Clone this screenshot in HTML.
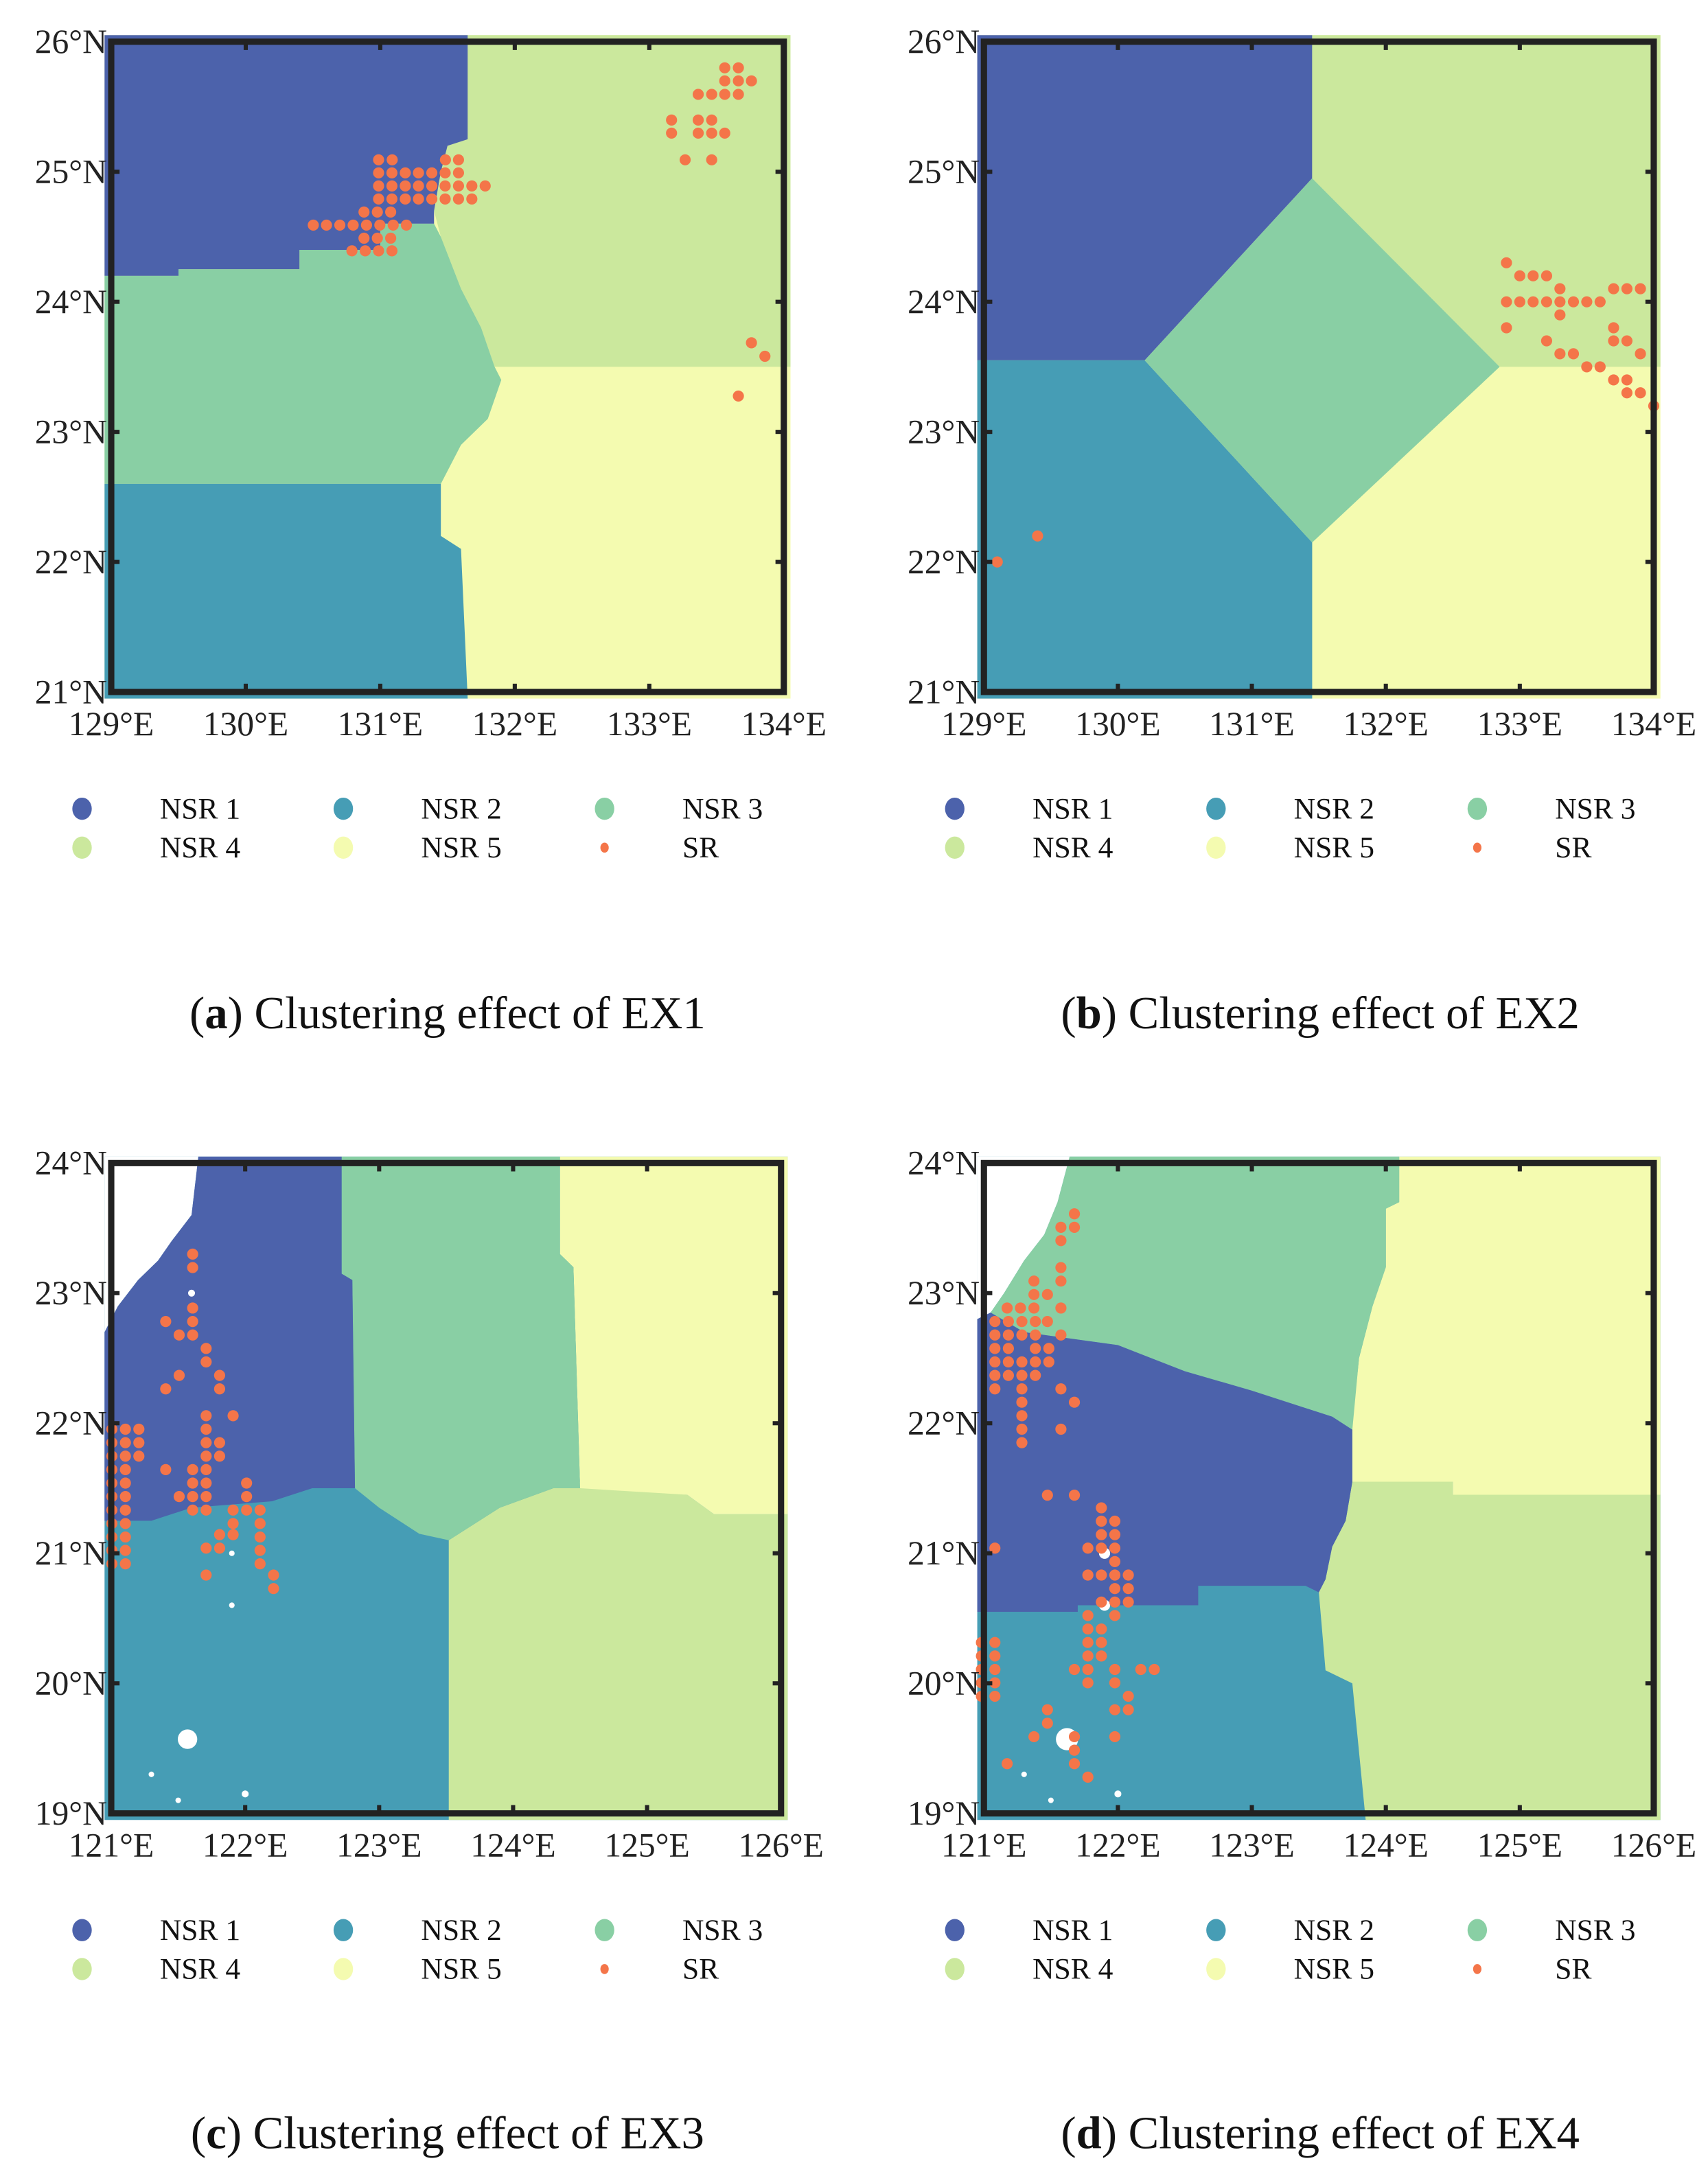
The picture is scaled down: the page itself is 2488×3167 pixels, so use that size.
<!DOCTYPE html>
<html><head><meta charset="utf-8">
<style>html,body{margin:0;padding:0;background:#fff}svg{display:block}</style>
</head><body>
<svg id="s" xmlns="http://www.w3.org/2000/svg" width="2488" height="3167" viewBox="0 0 1229 1564.5"></svg>
<script>
const C1='#4c62ab',C2='#469db5',C3='#89cfa4',C4='#cbe89d',C5='#f4fbb0',SR='#f47549',W='#ffffff';
let o='';
function poly(p,pts,col){
  const s=pts.map(q=>(p.x0+q[0]*p.w/5).toFixed(1)+','+(p.y0+q[1]*p.h/5).toFixed(1)).join(' ');
  o+=`<polygon points="${s}" fill="${col}"/>`;
}
function dot(x,y){o+=`<circle cx="${x.toFixed(1)}" cy="${y.toFixed(1)}" r="4" fill="${SR}"/>`;}
const full=[[-0.05,-0.05],[5.05,-0.05],[5.05,5.05],[-0.05,5.05]];
const P=[
 {x0:80,y0:30,w:484,h:468,lon0:129,lat1:26,lab:'a',ex:'EX1',leg:582,cap:740,
  reg:[[C5,full],
   [C4,[[2.65,-0.05],[5.05,-0.05],[5.05,2.5],[2.85,2.5],[2.75,2.2],[2.6,1.9],[2.45,1.5],[2.4,1.3],[2.45,1.0],[2.5,0.8],[2.65,0.75]]],
   [C1,[[-0.05,-0.05],[2.65,-0.05],[2.65,0.75],[2.5,0.8],[2.45,1.0],[2.4,1.3],[2.4,1.4],[2.0,1.4],[2.0,1.6],[1.4,1.6],[1.4,1.75],[0.5,1.75],[0.5,1.8],[-0.05,1.8]]],
   [C3,[[-0.05,1.8],[0.5,1.8],[0.5,1.75],[1.4,1.75],[1.4,1.6],[2.0,1.6],[2.0,1.4],[2.4,1.4],[2.45,1.5],[2.6,1.9],[2.75,2.2],[2.85,2.5],[2.9,2.6],[2.8,2.9],[2.6,3.1],[2.45,3.4],[-0.05,3.4]]],
   [C2,[[-0.05,3.4],[2.45,3.4],[2.45,3.8],[2.6,3.9],[2.65,5.05],[-0.05,5.05]]]
  ]},
 {x0:708,y0:30,w:482,h:468,lon0:129,lat1:26,lab:'b',ex:'EX2',leg:582,cap:740,
  reg:[[C5,full],
   [C1,[[-0.05,-0.05],[2.45,-0.05],[2.45,1.05],[1.2,2.45],[-0.05,2.45]]],
   [C2,[[-0.05,2.45],[1.2,2.45],[2.45,3.85],[2.45,5.05],[-0.05,5.05]]],
   [C4,[[2.45,-0.05],[5.05,-0.05],[5.05,2.5],[3.85,2.5],[2.45,1.05]]],
   [C3,[[1.2,2.45],[2.45,1.05],[3.85,2.5],[2.45,3.85]]]
  ]},
 {x0:80,y0:837,w:482,h:468,lon0:121,lat1:24,lab:'c',ex:'EX3',leg:1389,cap:1546,
  reg:[[C2,full],
   [W,[[-0.05,-0.05],[0.65,-0.05],[0.6,0.4],[0.45,0.6],[0.35,0.75],[0.2,0.9],[0.05,1.1],[-0.05,1.3]]],
   [C4,[[2.52,2.9],[2.9,2.65],[3.3,2.5],[3.5,2.45],[4.3,2.55],[4.5,2.7],[5.05,2.7],[5.05,5.05],[2.52,5.05]]],
   [C5,[[3.35,-0.05],[5.05,-0.05],[5.05,2.7],[4.5,2.7],[4.3,2.55],[3.5,2.5],[3.45,0.8],[3.35,0.7]]],
   [C3,[[1.72,-0.05],[3.35,-0.05],[3.35,0.7],[3.45,0.8],[3.5,2.5],[3.3,2.5],[2.9,2.65],[2.52,2.9],[2.3,2.85],[2.0,2.65],[1.82,2.5],[1.8,0.9],[1.72,0.85]]],
   [C1,[[0.65,-0.05],[1.72,-0.05],[1.72,0.85],[1.8,0.9],[1.82,2.5],[1.5,2.5],[1.2,2.6],[0.6,2.65],[0.3,2.75],[-0.05,2.75],[-0.05,1.3],[0.05,1.1],[0.2,0.9],[0.35,0.75],[0.45,0.6],[0.6,0.4]]]
  ]},
 {x0:708,y0:837,w:482,h:468,lon0:121,lat1:24,lab:'d',ex:'EX4',leg:1389,cap:1546,
  reg:[[C2,full],
   [W,[[-0.05,-0.05],[0.64,-0.05],[0.55,0.3],[0.45,0.55],[0.3,0.75],[0.15,1.0],[0.05,1.15],[-0.05,1.2]]],
   [C4,[[2.75,2.45],[3.5,2.45],[3.5,2.55],[5.05,2.55],[5.05,5.05],[2.85,5.05],[2.75,4.0],[2.55,3.9],[2.5,3.3],[2.55,3.2],[2.6,2.95],[2.7,2.75]]],
   [C5,[[3.1,-0.05],[5.05,-0.05],[5.05,2.55],[3.5,2.55],[3.5,2.45],[2.75,2.45],[2.75,2.0],[2.8,1.5],[2.9,1.1],[3.0,0.8],[3.0,0.35],[3.1,0.3]]],
   [C3,[[0.64,-0.05],[3.1,-0.05],[3.1,0.3],[3.0,0.35],[3.0,0.8],[2.9,1.1],[2.8,1.5],[2.75,2.05],[2.6,1.95],[2.0,1.75],[1.5,1.6],[1.0,1.4],[0.3,1.3],[0.05,1.15],[0.15,1.0],[0.3,0.75],[0.45,0.55],[0.55,0.3]]],
   [C1,[[-0.05,1.2],[0.05,1.15],[0.3,1.3],[1.0,1.4],[1.5,1.6],[2.0,1.75],[2.6,1.95],[2.75,2.05],[2.75,2.45],[2.7,2.75],[2.6,2.95],[2.55,3.2],[2.5,3.3],[2.4,3.25],[1.6,3.25],[1.6,3.4],[0.7,3.4],[0.7,3.45],[-0.05,3.45]]]
  ]}
];
P.forEach(p=>p.reg.forEach(r=>poly(p,r[1],r[0])));
function hole(p,lon,lat,r){o+=`<circle cx="${(p.x0+(lon-p.lon0)*p.w/5).toFixed(1)}" cy="${(p.y0+(p.lat1-lat)*p.h/5).toFixed(1)}" r="${r}" fill="#fff"/>`;}
hole(P[2],121.57,19.57,7);hole(P[3],121.62,19.57,8);hole(P[3],121.9,21.0,4);hole(P[3],121.9,20.6,4);
hole(P[2],121.3,19.3,2);hole(P[2],121.5,19.1,2);hole(P[2],122.0,19.15,2.5);hole(P[2],121.9,20.6,2);hole(P[2],121.9,21.0,2);hole(P[2],121.6,23.0,2.5);
hole(P[3],121.3,19.3,2);hole(P[3],121.5,19.1,2);hole(P[3],122.0,19.15,2.5);
const za=(zx,zy)=>dot((zx/1.418+100)/2.024,zy/(1.418*2.024));
function rowA(y,a,b){for(let x=a;x<=b+1;x+=27.5)za(x,y);}
za(640,330);za(668,330);za(778,330);za(805,330);
rowA(357,640,805);rowA(384,640,860);rowA(411,640,833);rowA(438,610,668);
rowA(465,505,723);rowA(492,610,668);rowA(518,585,668);
[[1355,140],[1383,140],[1355,167],[1383,167],[1410,167],[1300,195],[1328,195],[1355,195],[1383,195],[1245,248],[1300,248],[1328,248],[1245,275],[1300,275],[1328,275],[1355,275],[1273,330],[1328,330],[1410,708],[1438,736],[1383,818]].forEach(q=>za(q[0],q[1]));
const pb=P[1];
const lb=(lon,lat)=>dot(pb.x0+(lon-129)*pb.w/5,pb.y0+(26-lat)*pb.h/5);
const bd={24.3:[132.9],24.2:[133.0,133.1,133.2],24.1:[133.3,133.7,133.8,133.9],24.0:[132.9,133.0,133.1,133.2,133.3,133.4,133.5,133.6],23.9:[133.3],23.8:[132.9,133.7],23.7:[133.2,133.7,133.8],23.6:[133.3,133.4,133.9],23.5:[133.5,133.6],23.4:[133.7,133.8],23.3:[133.8,133.9],23.2:[134.0],22.2:[129.4],22.0:[129.1]};
for(const k in bd)bd[k].forEach(l=>lb(l,+k));
const zc=(zx,zy)=>dot((zx/1.5294+140)/2.024,(zy/1.5294+1660)/2.024);
[[215,255],[215,285],[215,375],[215,405],[155,405],[185,435],[215,435],[245,465],[245,495],[185,525],[155,555],[275,525],[275,555],
 [245,615],[245,645],[245,675],[245,705],[305,615],[275,675],[275,705],
 [95,645],[95,675],[95,705],[65,645],[65,675],[155,735],[185,795],
 [335,765],[335,795],[305,825],[335,825],[365,825],[365,855],[365,885],[365,915],[365,945],[305,855],[305,880],[275,880],[245,910],[275,910],[245,970],[395,970],[395,1000]].forEach(q=>zc(q[0],q[1]));
for(let y=645;y<=946;y+=30){zc(35,y);if(y>=705)zc(65,y);}
for(let y=735;y<=826;y+=30){zc(215,y);zc(245,y);}
const zd=(zx,zy)=>dot((zx/1.5294+1400)/2.024,(zy/1.5294+1660)/2.024);
[[252,165],[252,195],[222,195],[222,225],[222,285],[222,315],[222,375],[162,315],[162,345],[192,345],[162,375],[132,375],[102,375],
 [75,405],[105,405],[135,405],[165,405],[192,405],[222,435],
 [75,435],[105,435],[135,435],[165,435],[75,465],[105,465],[165,465],[195,465],
 [75,495],[105,495],[135,495],[165,495],[195,495],[75,525],[105,525],[135,525],[165,525],[75,555],[135,555],
 [135,585],[135,615],[135,645],[135,675],[222,555],[252,585],[222,645],[192,792],[252,792],[75,910],
 [312,820],[312,850],[342,850],[312,880],[342,880],[282,910],[312,910],[342,910],[342,940],[282,970],[312,970],[342,970],[372,970],[372,1000],[342,1000],[372,1030],[342,1030],[312,1030],[282,1060],[342,1060],[282,1090],[312,1090],[282,1120],[312,1120],[282,1150],[312,1150],[252,1180],[282,1180],[282,1210],[342,1180],[342,1210],[400,1180],[430,1180],[372,1240],[342,1270],[372,1270],[342,1330],[192,1270],[192,1300],[162,1330],[252,1330],[252,1360],[252,1390],[102,1390],[282,1420]].forEach(q=>zd(q[0],q[1]));
for(let y=1120;y<=1241;y+=30){zd(45,y);zd(75,y);}
const F='font-family="Liberation Serif, serif"';
P.forEach(p=>{
  const x1=p.x0+p.w,y1=p.y0+p.h;
  for(let i=0;i<=5;i++){
    const X=p.x0+i*p.w/5,Y=p.y0+i*p.h/5;
    o+=`<line x1="${X}" y1="${p.y0}" x2="${X}" y2="${p.y0+6}" stroke="#222" stroke-width="3"/>`;
    o+=`<line x1="${X}" y1="${y1}" x2="${X}" y2="${y1-6}" stroke="#222" stroke-width="3"/>`;
    o+=`<line x1="${p.x0}" y1="${Y}" x2="${p.x0+6}" y2="${Y}" stroke="#222" stroke-width="3"/>`;
    o+=`<line x1="${x1}" y1="${Y}" x2="${x1-6}" y2="${Y}" stroke="#222" stroke-width="3"/>`;
    o+=`<text x="${X}" y="${y1+31}" ${F} font-size="24.5" text-anchor="middle" fill="#222">${p.lon0+i}°E</text>`;
    o+=`<text x="${p.x0-3}" y="${Y+8}" ${F} font-size="24.5" text-anchor="end" fill="#222">${p.lat1-i}°N</text>`;
  }
  o+=`<rect x="${p.x0}" y="${p.y0}" width="${p.w}" height="${p.h}" fill="none" stroke="#222" stroke-width="4.5"/>`;
  const off=p.x0-80;
  const L=[[C1,'NSR 1',0,0],[C2,'NSR 2',1,0],[C3,'NSR 3',2,0],[C4,'NSR 4',0,1],[C5,'NSR 5',1,1],[SR,'SR',2,1]];
  L.forEach(l=>{
    const mx=59+off+l[2]*188,tx=115+off+l[2]*188,y=p.leg+l[3]*28;
    if(l[1]==='SR')o+=`<ellipse cx="${mx}" cy="${y}" rx="3" ry="3.6" fill="${SR}"/>`;
    else o+=`<ellipse cx="${mx}" cy="${y}" rx="7" ry="8" fill="${l[0]}"/>`;
    o+=`<text x="${tx}" y="${y+7}" ${F} font-size="21.5" fill="#111">${l[1]}</text>`;
  });
  o+=`<text x="${p.x0+242}" y="${p.cap}" ${F} font-size="33" text-anchor="middle" fill="#111">(<tspan font-weight="bold">${p.lab}</tspan>) Clustering effect of ${p.ex}</text>`;
});
document.getElementById('s').innerHTML=o;
</script>
</body></html>
